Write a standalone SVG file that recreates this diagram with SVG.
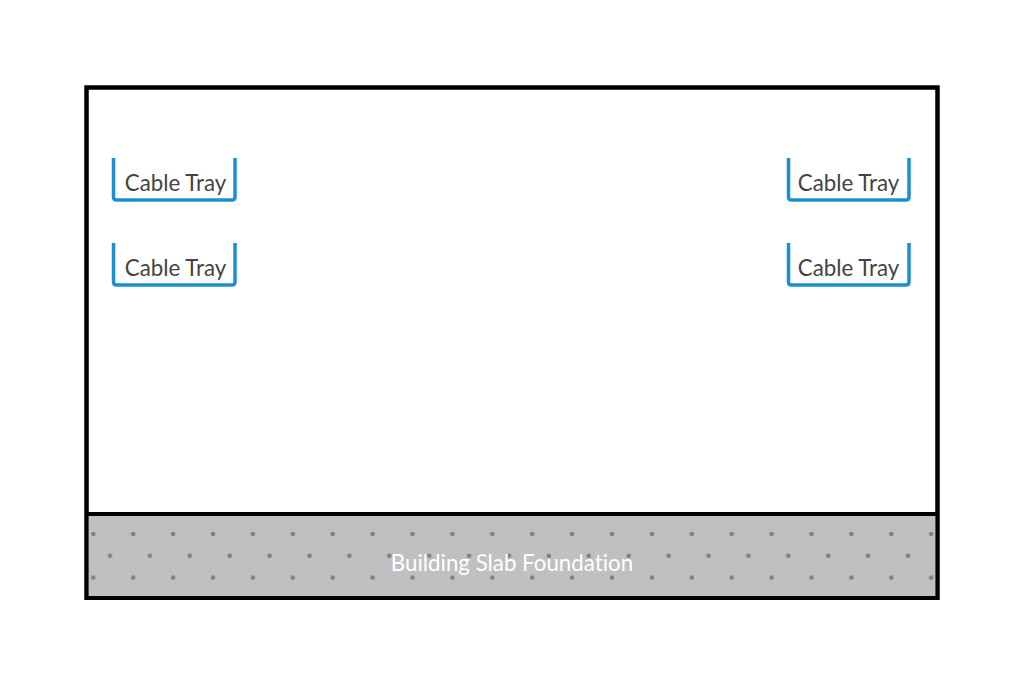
<svg xmlns="http://www.w3.org/2000/svg" width="1024" height="683" viewBox="0 0 1024 683">
<style>
.tray{fill:none;stroke:#1b8fd2;stroke-width:3.5;stroke-linejoin:round}
.lbl{font-family:Lato,"Noto Sans",sans-serif;font-size:22.3px;fill:#444;font-variant-ligatures:none}
.slabtxt{font-family:Lato,"Noto Sans",sans-serif;font-size:22.3px;fill:#ffffff;font-variant-ligatures:none}
</style>
<defs>
<pattern id="dots" x="93.3" y="534" width="39.9" height="43.6" patternUnits="userSpaceOnUse">
<circle cx="0" cy="0" r="2.3" fill="#808080"/>
<circle cx="39.9" cy="0" r="2.3" fill="#808080"/>
<circle cx="0" cy="43.6" r="2.3" fill="#808080"/>
<circle cx="39.9" cy="43.6" r="2.3" fill="#808080"/>
<circle cx="16.7" cy="21.8" r="2.3" fill="#808080"/>
</pattern>
</defs>
<rect width="1024" height="683" fill="#ffffff"/>
<g id="building">
<rect x="86.5" y="87.5" width="851" height="510.5" fill="#ffffff" stroke="#000" stroke-width="4"/>
</g>
<g id="slab">
<rect x="88.5" y="516" width="847" height="80" fill="#c0c0c2"/>
<rect x="88.5" y="516" width="847" height="80" fill="url(#dots)"/>
<line x1="86.5" y1="514" x2="937.5" y2="514" stroke="#000" stroke-width="4"/>
<rect x="86.5" y="87.5" width="851" height="510.5" fill="none" stroke="#000" stroke-width="4"/>
<text class="slabtxt" x="512" y="570.5" text-anchor="middle">Building Slab Foundation</text>
</g>
<g id="tray1">
<path class="tray" d="M113.5 158 V197 Q113.5 200 116.5 200 H232 Q235 200 235 197 V158"/>
<text class="lbl" x="175.5" y="190.5" text-anchor="middle">Cable Tray</text>
</g>
<g id="tray2">
<path class="tray" d="M113.5 243 V282 Q113.5 285 116.5 285 H232 Q235 285 235 282 V243"/>
<text class="lbl" x="175.5" y="275.5" text-anchor="middle">Cable Tray</text>
</g>
<g id="tray3">
<path class="tray" d="M788.5 158 V197 Q788.5 200 791.5 200 H906 Q909 200 909 197 V158"/>
<text class="lbl" x="848.5" y="190.5" text-anchor="middle">Cable Tray</text>
</g>
<g id="tray4">
<path class="tray" d="M788.5 243 V282 Q788.5 285 791.5 285 H906 Q909 285 909 282 V243"/>
<text class="lbl" x="848.5" y="275.5" text-anchor="middle">Cable Tray</text>
</g>
<g id="connectors"></g>
</svg>
